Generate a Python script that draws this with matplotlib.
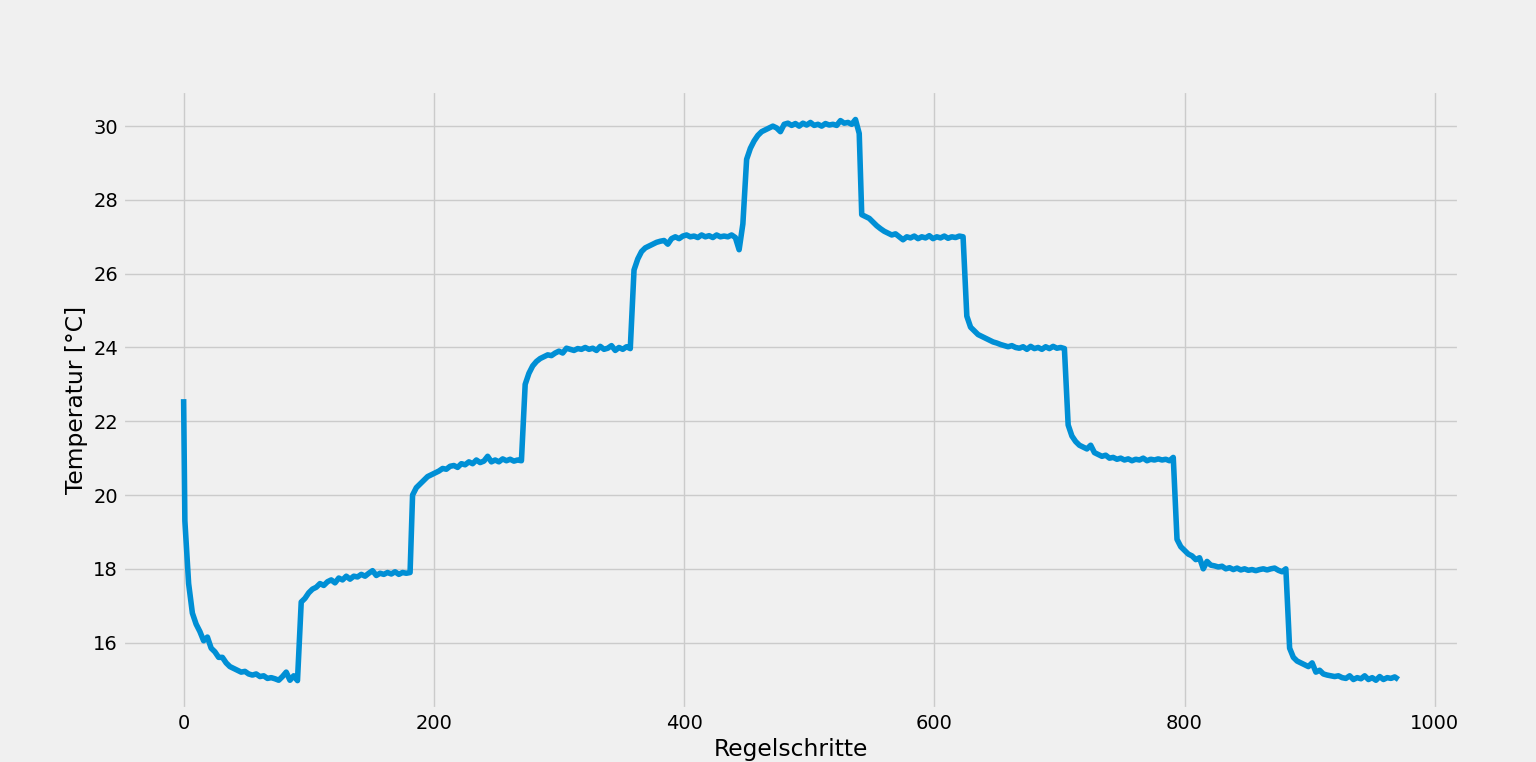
import matplotlib
matplotlib.use("Agg")
import matplotlib.pyplot as plt
import numpy as np

plt.style.use('fivethirtyeight')

schritt = 3

startwert = 22.6  # Regelschritt 0
stufe_15a = [19.3, 17.6, 16.8, 16.5, 16.3, 16.05, 16.15, 15.85, 15.75, 15.6,
             15.6, 15.45, 15.35, 15.3, 15.25, 15.2, 15.22, 15.15, 15.12, 15.15,
             15.08, 15.1, 15.03, 15.05, 15.02, 14.98, 15.08, 15.2, 14.98, 15.1,
             14.97]
stufe_18a = [17.1, 17.2, 17.35, 17.45, 17.5, 17.6, 17.55, 17.65, 17.7, 17.62,
             17.75, 17.7, 17.8, 17.72, 17.8, 17.78, 17.85, 17.8, 17.88, 17.95,
             17.82, 17.88, 17.85, 17.9, 17.86, 17.92, 17.85, 17.9, 17.88, 17.9]
stufe_21a = [20.0, 20.2, 20.3, 20.4, 20.5, 20.55, 20.6, 20.65, 20.72, 20.7,
             20.78, 20.8, 20.75, 20.85, 20.82, 20.9, 20.85, 20.95, 20.88, 20.92,
             21.05, 20.9, 20.95, 20.9, 20.98, 20.93, 20.97, 20.92, 20.95, 20.93]
stufe_24a = [23.0, 23.3, 23.5, 23.62, 23.7, 23.75, 23.8, 23.78, 23.85, 23.9,
             23.85, 23.98, 23.95, 23.92, 23.97, 23.95, 24.0, 23.95, 23.98, 23.92,
             24.03, 23.95, 23.98, 24.05, 23.92, 24.0, 23.95, 24.02, 23.97]
stufe_27a = [26.1, 26.4, 26.6, 26.7, 26.75, 26.8, 26.85, 26.88, 26.9, 26.8,
             26.95, 27.0, 26.95, 27.02, 27.05, 27.0, 27.02, 26.98, 27.05, 27.0,
             27.03, 26.98, 27.05, 27.0, 27.02, 27.0, 27.05, 26.98, 26.65, 27.35]
stufe_30 = [29.1, 29.4, 29.6, 29.75, 29.85, 29.9, 29.95, 30.0, 29.95, 29.85,
            30.05, 30.08, 30.02, 30.07, 30.0, 30.08, 30.03, 30.1, 30.02, 30.05,
            30.0, 30.07, 30.03, 30.05, 30.02, 30.15, 30.08, 30.1, 30.05, 30.18,
            29.8]
stufe_27b = [27.6, 27.55, 27.5, 27.4, 27.3, 27.22, 27.15, 27.1, 27.05, 27.08,
             27.0, 26.92, 27.0, 26.97, 27.02, 26.95, 27.0, 26.97, 27.03, 26.95,
             27.0, 26.97, 27.02, 26.96, 27.0, 26.98, 27.02, 27.0]
stufe_24b = [24.85, 24.55, 24.45, 24.35, 24.3, 24.25, 24.2, 24.15, 24.12, 24.08,
             24.05, 24.02, 24.05, 24.0, 23.98, 24.02, 23.95, 24.03, 23.97, 24.0,
             23.95, 24.02, 23.97, 24.03, 23.98, 24.0, 23.97]
stufe_21b = [21.9, 21.6, 21.45, 21.35, 21.3, 21.25, 21.35, 21.15, 21.1, 21.05,
             21.08, 21.0, 21.02, 20.97, 21.0, 20.95, 20.98, 20.93, 20.97, 20.95,
             21.0, 20.93, 20.97, 20.95, 20.98, 20.95, 20.97, 20.93, 21.02]
stufe_18b = [18.8, 18.6, 18.5, 18.4, 18.35, 18.25, 18.3, 18.0, 18.2, 18.1,
             18.08, 18.05, 18.07, 18.0, 18.03, 17.98, 18.02, 17.97, 18.0, 17.96,
             17.98, 17.95, 17.98, 18.0, 17.97, 18.0, 18.02, 17.96, 17.92, 18.0]
stufe_15b = [15.85, 15.6, 15.5, 15.45, 15.4, 15.35, 15.45, 15.2, 15.25, 15.15,
             15.12, 15.1, 15.08, 15.1, 15.05, 15.03, 15.1, 15.0, 15.05, 15.02,
             15.1, 15.0, 15.05, 14.98, 15.08, 15.0, 15.05, 15.03, 15.07, 15.0]

# erster Regelschritt jeder Stufe
stufen_start = [1, 94, 183, 273, 360, 450, 542, 626, 707, 794, 884]
stufen = [stufe_15a, stufe_18a, stufe_21a, stufe_24a, stufe_27a, stufe_30,
          stufe_27b, stufe_24b, stufe_21b, stufe_18b, stufe_15b]

x = np.concatenate([[0]] + [s0 + schritt * np.arange(len(st))
                            for s0, st in zip(stufen_start, stufen)])
y = np.concatenate([[startwert]] + stufen)

fig, ax = plt.subplots(figsize=(15.36, 7.62), dpi=100)
ax.plot(x, y)
ax.set_xlabel('Regelschritte')
ax.set_ylabel('Temperatur [°C]')

plt.savefig('out.png', dpi=100)
